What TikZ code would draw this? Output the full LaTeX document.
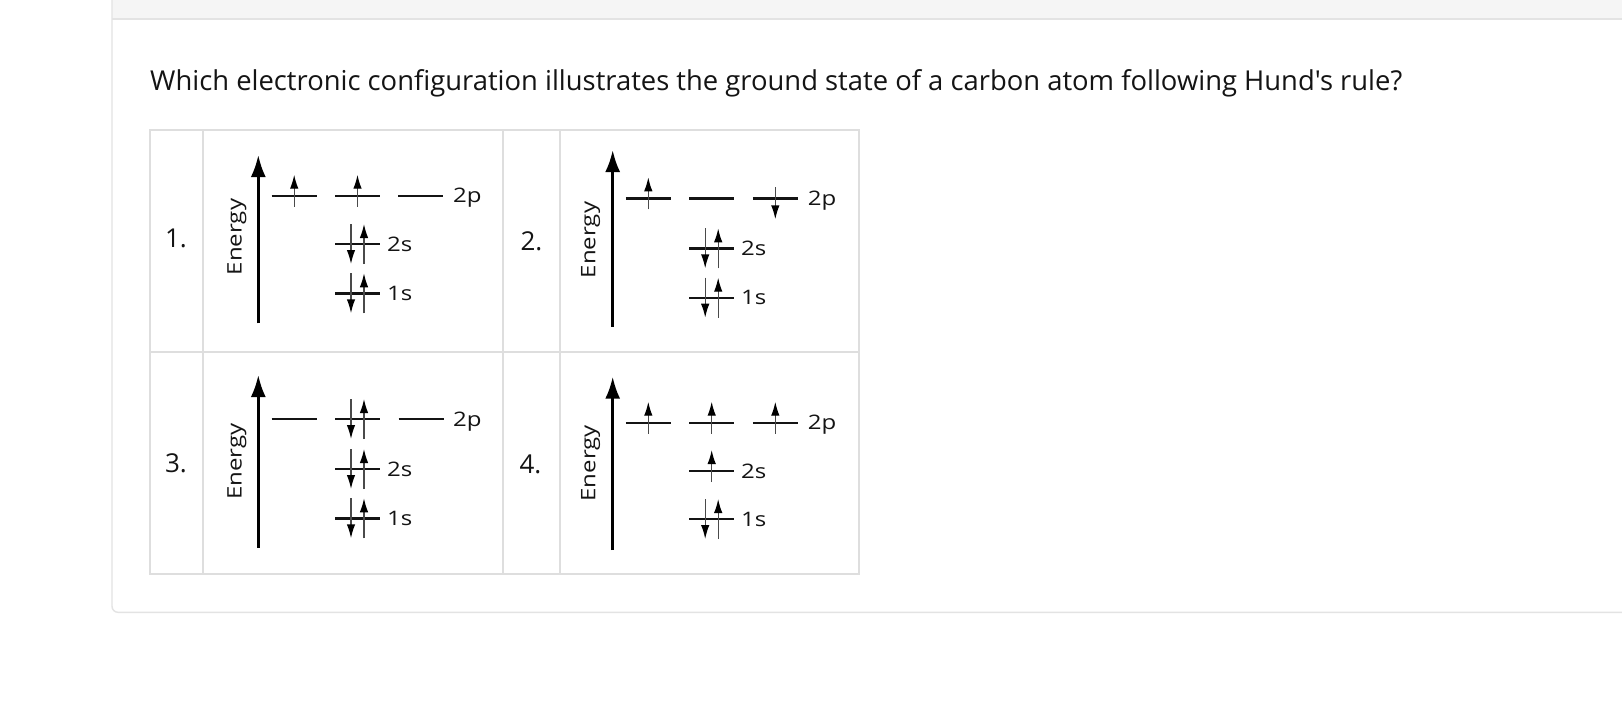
\documentclass[tikz,border=0pt]{standalone}
\usepackage{fontspec}
\setmainfont{Open Sans}
\newfontfamily\osans{Open Sans}
\usetikzlibrary{arrows.meta}
\definecolor{txt}{HTML}{141414}
\definecolor{gridc}{HTML}{DEDEDE}
\definecolor{bandc}{HTML}{F5F5F5}
\definecolor{cardc}{HTML}{E3E3E3}
\definecolor{shaftc}{HTML}{4A4A4A}
\tikzset{
  axisarrow/.style={line width=2.8pt, black, -{Latex[length=22pt,width=15pt]}},
  levelline/.style={line width=2.4pt, draw=black!92},
  eshaft/.style={line width=1.4pt, draw=shaftc, -{Latex[length=14pt,width=8.5pt,color=black]}},
  gridline/.style={line width=1.3pt, draw=gridc},
  numlab/.style={inner sep=0, text=txt, font=\osans\fontsize{26}{30}\selectfont},
  orblab/.style={inner sep=0, anchor=base west, text=txt, font=\osans\fontsize{20}{24}\selectfont},
  energylab/.style={inner sep=0, rotate=90, text=txt, font=\osans\fontsize{20}{24}\selectfont},
}
\newcommand{\orb}[3]{\coordinate (#1) at ({#2},{#3});
  \draw[levelline] ({#2-22.5},{#3}) -- ({#2+22.5},{#3});}
\newcommand{\eup}[2]{\draw[eshaft] ({#1},{#2+11}) -- ({#1},{#2-21});}
\newcommand{\edown}[2]{\draw[eshaft] ({#1},{#2-11}) -- ({#1},{#2+21});}
\newcommand{\epair}[2]{\draw[eshaft] ({#1-6.5},{#2-20}) -- ({#1-6.5},{#2+20});
  \draw[eshaft] ({#1+6.5},{#2+20}) -- ({#1+6.5},{#2-20});}
\newcommand{\stretchx}[1]{\scalebox{1.2}[1]{#1}}
\begin{document}
\begin{tikzpicture}[x=1pt,y=-1pt]
\useasboundingbox (0,0) rectangle (1622,720);
\fill[white] (0,0) rectangle (1622,720);
% card
\fill[bandc] (112,0) rectangle (1622,19);
\draw[line width=1.6pt, draw=cardc] (112,19) -- (1622,19);
\draw[line width=1.4pt, draw=cardc, rounded corners=6pt] (112,-5) -- (112,612.3) -- (1630,612.3);
% title
\node[anchor=base west, inner sep=0, text=txt] (title) at (150,90)
  {\resizebox{1252pt}{!}{\osans\fontsize{28}{34}\selectfont Which electronic configuration illustrates the ground state of a carbon atom following Hund's rule?}};
% table grid
\draw[gridline] (150,130) rectangle (859,574);
\draw[gridline] (150,352) -- (859,352);
\draw[gridline] (203,130) -- (203,574);
\draw[gridline] (503,130) -- (503,574);
\draw[gridline] (560,130) -- (560,574);
% numbers
\node[numlab] (n1) at (176,238.5) {1.};
\node[numlab] (n2) at (531.5,241) {2.};
\node[numlab] (n3) at (176,463.5) {3.};
\node[numlab] (n4) at (530.5,464) {4.};
% ---------- panel 1
\coordinate (a1b) at (258.3,323.3); \coordinate (a1t) at (258.3,155);
\draw[axisarrow] (a1b) -- (a1t);
\node[energylab] (en1) at (237,237) {\stretchx{Energy}};
\orb{p1a}{294.2}{195.7}\orb{p1b}{357.5}{195.7}\orb{p1c}{420.5}{195.7}
\orb{s1b}{357.5}{244}\orb{s1a}{357.5}{293.3}
\eup{294.2}{195.7}\eup{357.5}{195.7}
\epair{357.5}{244}\epair{357.5}{293.3}
\node[orblab] (l1p) at (453,202.7) {\stretchx{2p}};
\node[orblab] (l1s2) at (387,251) {\stretchx{2s}};
\node[orblab] (l1s1) at (387,300.3) {\stretchx{1s}};
% ---------- panel 2
\coordinate (a2b) at (612.7,326.7); \coordinate (a2t) at (612.7,150);
\draw[axisarrow] (a2b) -- (a2t);
\node[energylab] (en2) at (590.7,240) {\stretchx{Energy}};
\orb{p2a}{648.3}{198.3}\orb{p2b}{711.7}{198.3}\orb{p2c}{775.3}{198.3}
\orb{s2b}{711.7}{248.3}\orb{s2a}{711.7}{297.7}
\eup{648.3}{198.3}\edown{775.3}{198.3}
\epair{711.7}{248.3}\epair{711.7}{297.7}
\node[orblab] (l2p) at (807.7,205.3) {\stretchx{2p}};
\node[orblab] (l2s2) at (741,255.3) {\stretchx{2s}};
\node[orblab] (l2s1) at (741,304.7) {\stretchx{1s}};
% ---------- panel 3
\coordinate (a3b) at (258.3,547.7); \coordinate (a3t) at (258.3,375);
\draw[axisarrow] (a3b) -- (a3t);
\node[energylab] (en3) at (237,461.7) {\stretchx{Energy}};
\orb{p3a}{294.2}{419}\orb{p3b}{357.5}{419}\orb{p3c}{421}{419}
\orb{s3b}{357.5}{469}\orb{s3a}{357.5}{518.3}
\epair{357.5}{419}\epair{357.5}{469}\epair{357.5}{518.3}
\node[orblab] (l3p) at (453,426) {\stretchx{2p}};
\node[orblab] (l3s2) at (387,476) {\stretchx{2s}};
\node[orblab] (l3s1) at (387,525.3) {\stretchx{1s}};
% ---------- panel 4
\coordinate (a4b) at (612.7,550); \coordinate (a4t) at (612.7,376.7);
\draw[axisarrow] (a4b) -- (a4t);
\node[energylab] (en4) at (590.7,463.3) {\stretchx{Energy}};
\orb{p4a}{648.3}{422.7}\orb{p4b}{711.7}{422.7}\orb{p4c}{775.3}{422.7}
\orb{s4b}{711.7}{471}\orb{s4a}{711.7}{519}
\eup{648.3}{422.7}\eup{711.7}{422.7}\eup{775.3}{422.7}
\eup{711.7}{471}\epair{711.7}{519}
\node[orblab] (l4p) at (807.7,429.7) {\stretchx{2p}};
\node[orblab] (l4s2) at (741,478) {\stretchx{2s}};
\node[orblab] (l4s1) at (741,526) {\stretchx{1s}};
\end{tikzpicture}
\end{document}
